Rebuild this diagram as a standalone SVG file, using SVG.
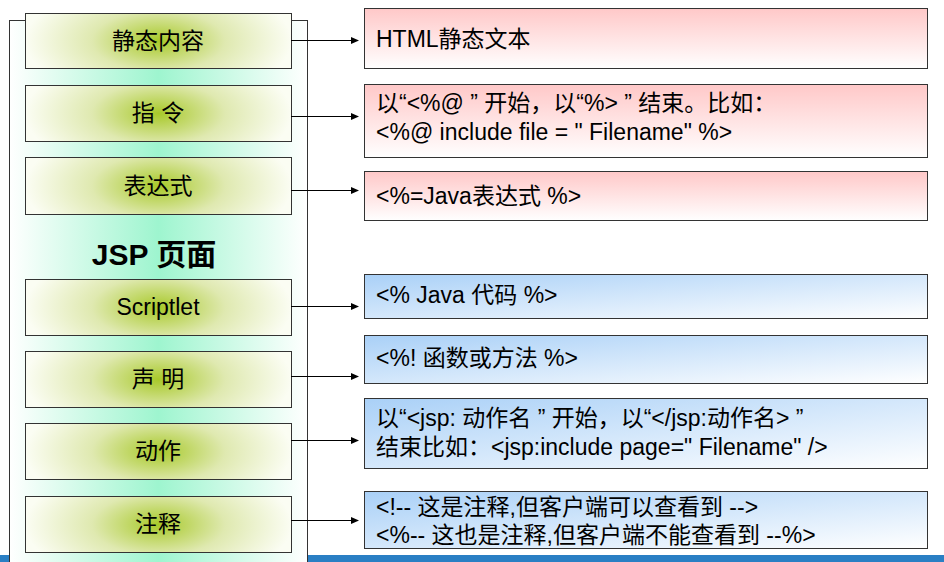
<svg xmlns="http://www.w3.org/2000/svg" width="944" height="562" viewBox="0 0 944 562">
<defs>
<linearGradient id="band" x1="0" x2="1" y1="0" y2="0">
<stop offset="0" stop-color="#ffffff"/><stop offset="0.5" stop-color="#9ef5cf"/><stop offset="1" stop-color="#ffffff"/>
</linearGradient>
<radialGradient id="node" cx="0.5" cy="0.5" r="0.5" gradientTransform="translate(0.5 0.5) scale(1 2.2) translate(-0.5 -0.5)">
<stop offset="0" stop-color="#a8c92a"/><stop offset="0.5" stop-color="#dfe9b0"/><stop offset="1" stop-color="#fbfdf3"/>
</radialGradient>
<linearGradient id="pink" x1="0" x2="0" y1="0" y2="1">
<stop offset="0" stop-color="#ffc8c8"/><stop offset="1" stop-color="#ffffff"/>
</linearGradient>
<linearGradient id="blue" x1="0" x2="1" y1="0" y2="1">
<stop offset="0" stop-color="#a9d0f7"/><stop offset="1" stop-color="#ffffff"/>
</linearGradient>
<marker id="arr" markerWidth="8" markerHeight="8" refX="7" refY="4" orient="auto" markerUnits="userSpaceOnUse">
<path d="M0,0.5 L8,4 L0,7.5 z" fill="#000"/>
</marker>
<style>
.n{fill:url(#node);stroke:#333;stroke-width:1}
.p{fill:url(#pink);stroke:#333;stroke-width:1}
.b{fill:url(#blue);stroke:#333;stroke-width:1}
.t{font-family:"Liberation Sans","Noto Sans CJK SC",sans-serif;font-size:23px;fill:#000}
.c{text-anchor:middle}
.r{font-family:"Liberation Sans","Noto Sans CJK SC",sans-serif;font-size:23px;fill:#000}
.a{stroke:#000;stroke-width:1;fill:none;marker-end:url(#arr)}
</style>
</defs>
<rect width="944" height="562" fill="#fff"/>
<rect x="0" y="555" width="944" height="7" fill="#2a7fc4"/>
<rect id="container" x="9.5" y="20.5" width="298" height="545" fill="url(#band)" stroke="#333"/>
<text x="154" y="265" class="t c" font-weight="bold" style="font-size:30px">JSP 页面</text>
<g id="n1"><rect x="25.5" y="13.5" width="266" height="55" class="n"/><text x="158" y="49" class="t c">静态内容</text></g>
<g id="n2"><rect x="25.5" y="85.5" width="266" height="56" class="n"/><text x="158" y="121" class="t c">指 令</text></g>
<g id="n3"><rect x="25.5" y="157.5" width="266" height="57" class="n"/><text x="158" y="194" class="t c">表达式</text></g>
<g id="n4"><rect x="25.5" y="279.5" width="266" height="56" class="n"/><text x="158" y="315" class="t c">Scriptlet</text></g>
<g id="n5"><rect x="25.5" y="351.5" width="266" height="56" class="n"/><text x="158" y="387" class="t c">声 明</text></g>
<g id="n6"><rect x="25.5" y="423.5" width="266" height="56" class="n"/><text x="158" y="459" class="t c">动作</text></g>
<g id="n7"><rect x="25.5" y="496.5" width="266" height="56" class="n"/><text x="158" y="532" class="t c">注释</text></g>
<g id="d1"><rect x="364.5" y="8.5" width="563" height="60" class="p"/><text x="376" y="47" class="r">HTML静态文本</text></g>
<g id="d2"><rect x="364.5" y="84.5" width="563" height="73" class="p"/><text x="376" y="111" class="r">以“&lt;%@ ” 开始，以“%&gt; ” 结束。比如：</text><text x="376" y="140" class="r">&lt;%@ include file = " Filename" %&gt;</text></g>
<g id="d3"><rect x="364.5" y="171.5" width="563" height="49" class="p"/><text x="376" y="204" class="r">&lt;%=Java表达式 %&gt;</text></g>
<g id="d4"><rect x="364.5" y="274.5" width="563" height="44" class="b"/><text x="376" y="303" class="r">&lt;% Java 代码 %&gt;</text></g>
<g id="d5"><rect x="364.5" y="335.5" width="563" height="48" class="b"/><text x="376" y="366" class="r">&lt;%! 函数或方法 %&gt;</text></g>
<g id="d6"><rect x="364.5" y="398.5" width="563" height="70" class="b"/><text x="376" y="426" class="r">以“&lt;jsp: 动作名 ” 开始，以“&lt;/jsp:动作名&gt; ”</text><text x="376" y="455" class="r">结束比如：&lt;jsp:include page=" Filename" /&gt;</text></g>
<g id="d7"><rect x="364.5" y="491.5" width="563" height="57" class="b"/><text x="376" y="515" class="r">&lt;!-- 这是注释,但客户端可以查看到 --&gt;</text><text x="376" y="543" class="r">&lt;%-- 这也是注释,但客户端不能查看到 --%&gt;</text></g>
<g id="connectors">
<line x1="291" y1="40.5" x2="358" y2="40.5" class="a"/>
<line x1="291" y1="116.5" x2="358" y2="116.5" class="a"/>
<line x1="291" y1="190.5" x2="358" y2="190.5" class="a"/>
<line x1="291" y1="306.5" x2="358" y2="306.5" class="a"/>
<line x1="291" y1="376.5" x2="358" y2="376.5" class="a"/>
<line x1="291" y1="440.5" x2="358" y2="440.5" class="a"/>
<line x1="291" y1="520.5" x2="358" y2="520.5" class="a"/>
</g>
</svg>
